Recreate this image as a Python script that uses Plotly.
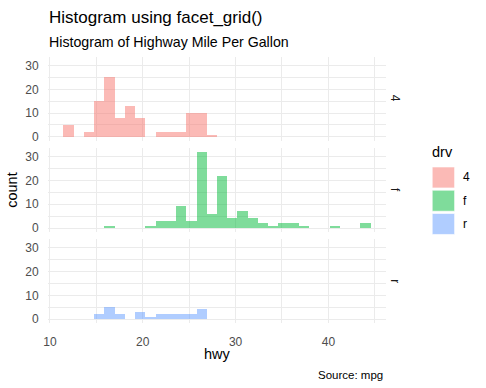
import plotly.graph_objects as go
from plotly.subplots import make_subplots

# ---- data: hwy histogram (bins=30 over 12..44) counts per bin, by drv ----
hwy_min, hwy_max, n_bins = 12, 44, 30
drv_levels = ["4", "f", "r"]
counts_4 = [5, 0, 2, 15, 25, 8, 13, 8, 0, 2, 2, 2, 10, 10, 1,
            0, 0, 0, 0, 0, 0, 0, 0, 0, 0, 0, 0, 0, 0, 0]
counts_f = [0, 0, 0, 0, 1, 0, 0, 0, 1, 3, 3, 9, 3, 32, 6,
            22, 4, 7, 4, 2, 1, 2, 2, 1, 0, 0, 1, 0, 0, 2]
counts_r = [0, 0, 0, 2, 5, 2, 0, 3, 1, 2, 2, 2, 2, 4, 0,
            0, 0, 0, 0, 0, 0, 0, 0, 0, 0, 0, 0, 0, 0, 0]
x_ticks = [10, 20, 30, 40]
y_ticks = [0, 10, 20, 30]

fills = ["rgba(248,118,109,0.5)", "rgba(0,186,56,0.5)", "rgba(97,156,255,0.5)"]

binwidth = (hwy_max - hwy_min) / (n_bins - 1)
centers = [hwy_min + k * binwidth for k in range(n_bins)]

fig = make_subplots(rows=3, cols=1, shared_xaxes=True, vertical_spacing=0.028)
for i, cnt in enumerate([counts_4, counts_f, counts_r]):
    fig.add_trace(go.Bar(x=centers, y=cnt, width=binwidth,
                         marker=dict(color=fills[i], line=dict(width=0)),
                         name=drv_levels[i], showlegend=False,
                         hoverinfo="x+y"), row=i + 1, col=1)

# geometry (pixels)
W, H = 486, 388
L, R, T, B = 47.5, 386, 56.5, 323
pw, ph = R - L, B - T

def px(x):
    return (x - L) / pw

def py(y):
    return (B - y) / ph

gap = 7.5
panel_h = (ph - 2 * gap) / 3
doms = [[1 - panel_h / ph, 1],
        [(panel_h + gap) / ph, (2 * panel_h + gap) / ph],
        [0, panel_h / ph]]

gridc = "#EBEBEB"
xlo = hwy_min - binwidth / 2
xhi = hwy_max + binwidth / 2
xr = [xlo - 0.05 * (xhi - xlo), xhi + 0.05 * (xhi - xlo)]
ymax = max(max(counts_4), max(counts_f), max(counts_r))
yr = [-0.05 * ymax, 1.05 * ymax]

for i in range(3):
    ax = "" if i == 0 else str(i + 1)
    fig.layout["yaxis" + ax].update(
        domain=doms[i], range=yr, tickvals=y_ticks, showgrid=True,
        gridcolor=gridc, gridwidth=1, zeroline=False, showline=False,
        ticks="outside", ticklen=6, tickcolor="rgba(0,0,0,0)",
        tickfont=dict(family="Liberation Sans, Arial", size=12, color="#4D4D4D"),
        minor=dict(tickvals=[5, 15, 25], showgrid=True, gridcolor=gridc, gridwidth=0.6),
        fixedrange=True)
    fig.layout["xaxis" + ax].update(
        range=xr, tickvals=x_ticks, showgrid=True, gridcolor=gridc, gridwidth=1,
        zeroline=False, showline=False, showticklabels=(i == 2),
        ticks="outside" if i == 2 else "", ticklen=8, tickcolor="rgba(0,0,0,0)",
        tickfont=dict(family="Liberation Sans, Arial", size=12, color="#4D4D4D"),
        minor=dict(tickvals=[15, 25, 35, 45], showgrid=True, gridcolor=gridc, gridwidth=0.6),
        fixedrange=True)

font = "Liberation Sans, Arial"
ann = []
ann.append(dict(text="Histogram using facet_grid()", x=px(46), y=py(17), xanchor="left",
                yanchor="middle", font=dict(family=font, size=17, color="black")))
ann.append(dict(text="Histogram of Highway Mile Per Gallon", x=px(46), y=py(41), xanchor="left",
                yanchor="middle", font=dict(family=font, size=14.2, color="black")))
ann.append(dict(text="Source: mpg", x=px(385), y=py(375), xanchor="right", yanchor="middle",
                font=dict(family=font, size=11.5, color="black")))
ann.append(dict(text="hwy", x=0.5, y=py(354), xanchor="center", yanchor="middle",
                font=dict(family=font, size=14.5, color="black")))
ann.append(dict(text="count", x=px(12), y=py(190), xanchor="center", yanchor="middle",
                textangle=-90, font=dict(family=font, size=14.5, color="black")))
for i, lv in enumerate(drv_levels):
    ymid = (doms[i][0] + doms[i][1]) / 2
    ann.append(dict(text=lv, x=px(395), y=ymid, xanchor="center", yanchor="middle",
                    textangle=90, font=dict(family=font, size=12, color="#1A1A1A")))
# legend
ann.append(dict(text="drv", x=px(430), y=py(152), xanchor="left", yanchor="middle",
                font=dict(family=font, size=14.5, color="black")))
key_tops = [166.7, 190, 213.3]
shapes = []
for i, lv in enumerate(drv_levels):
    y0, y1 = key_tops[i], key_tops[i] + 21
    shapes.append(dict(type="rect", xref="paper", yref="paper", x0=px(432.3), x1=px(454.7),
                       y0=py(y1), y1=py(y0), fillcolor=fills[i], line=dict(width=0.6, color="white")))
    ann.append(dict(text=lv, x=px(461), y=py((y0 + y1) / 2), xanchor="left", yanchor="middle",
                    font=dict(family=font, size=12, color="black")))
for a in ann:
    a.update(xref="paper", yref="paper", showarrow=False)

fig.update_layout(width=W, height=H, margin=dict(l=L, r=W - R, t=T, b=H - B),
                  plot_bgcolor="white", paper_bgcolor="white", bargap=0,
                  annotations=ann, shapes=shapes, showlegend=False)

fig.write_html("out.html", config={"displayModeBar": False},
               post_script="document.body.style.margin='0';")
